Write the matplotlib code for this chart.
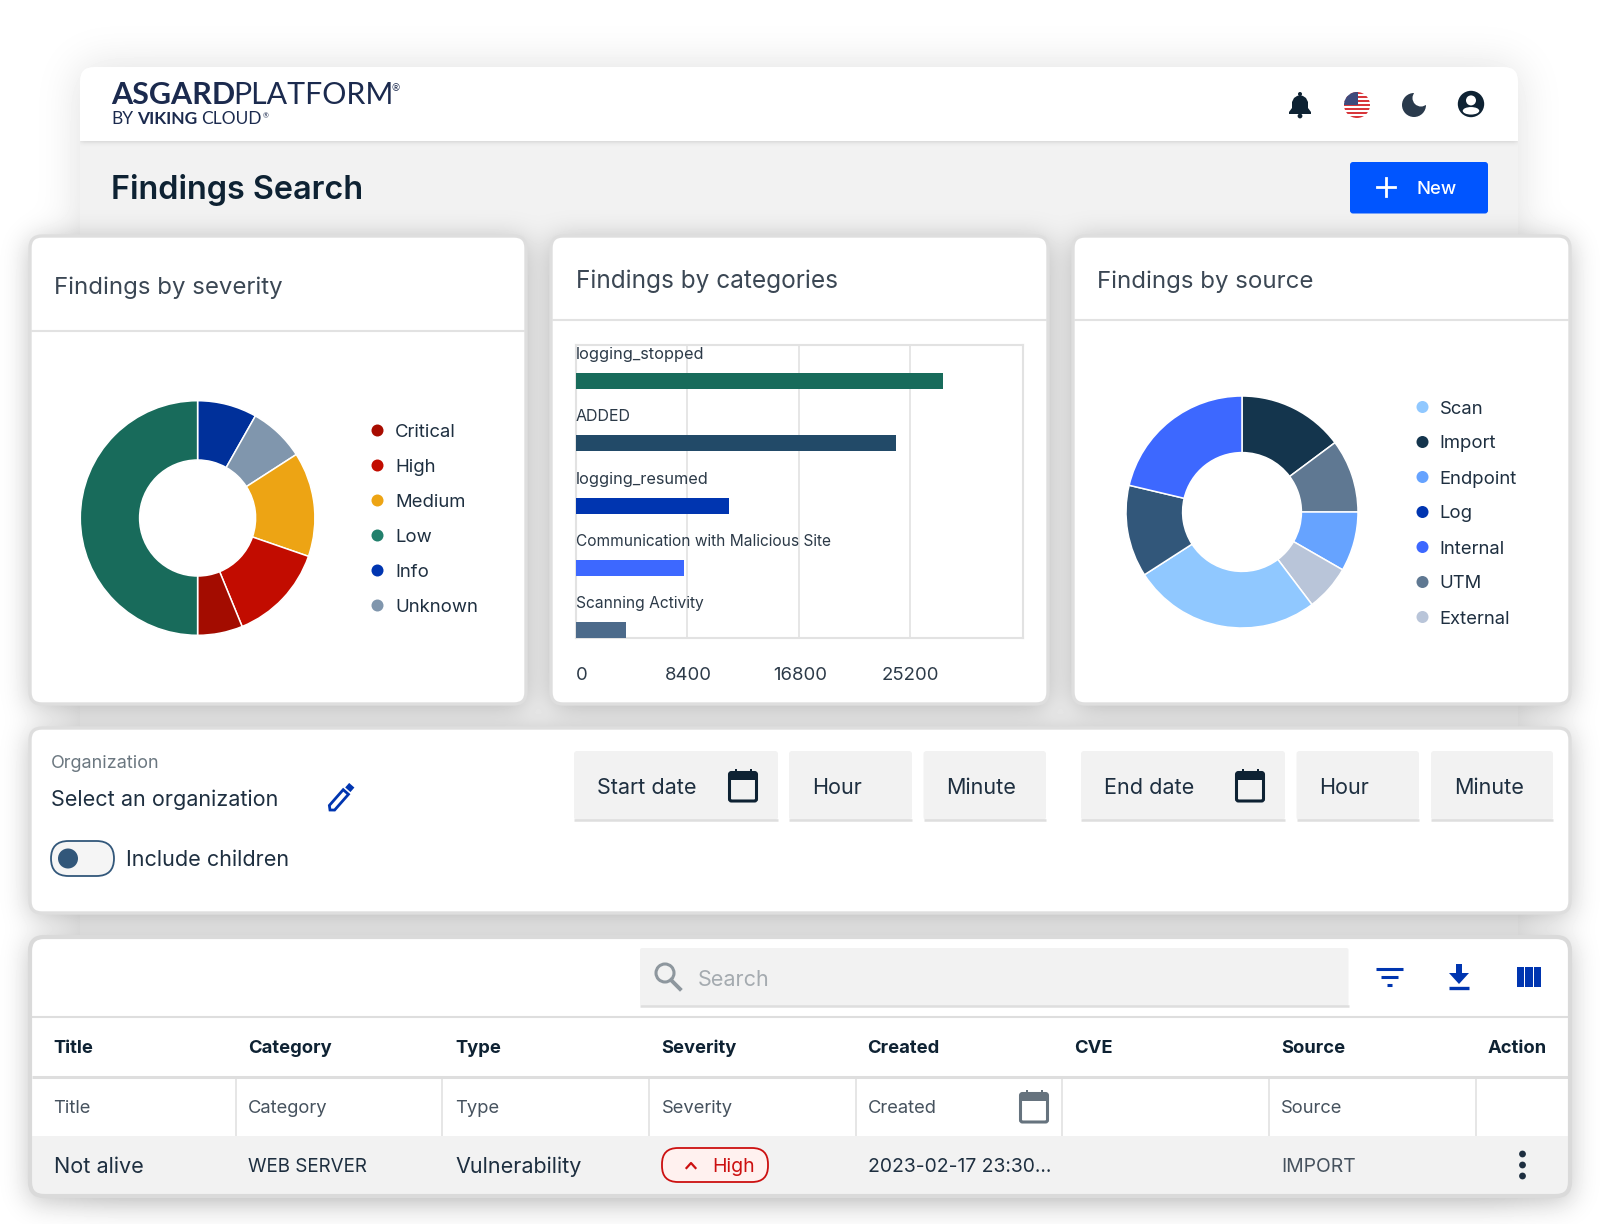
import math
import numpy as np
import matplotlib
matplotlib.use('Agg')
import matplotlib.pyplot as plt
from matplotlib.patches import FancyBboxPatch, Circle, Rectangle, Polygon, Ellipse

W, H = 1600, 1224
FONT = 'Inter'

# severity donut
severity_labels = ['Critical', 'High', 'Medium', 'Low', 'Info', 'Unknown']
severity_legend_colors = ['#A80C00', '#C20C00', '#EDA414', '#22806C', '#0035B0', '#8096AD']
severity_slices = ['Info', 'Unknown', 'Medium', 'High', 'Critical', 'Low']
severity_values = [8.2, 7.7, 14.4, 13.5, 6.2, 50.0]
severity_colors = ['#00309A', '#8096AD', '#EDA414', '#C20C00', '#A30C00', '#186B5B']

# category bars
category_labels = ['logging_stopped', 'ADDED', 'logging_resumed',
                   'Communication with Malicious Site', 'Scanning Activity']
category_values = [27700, 24150, 11530, 8150, 3840]
category_colors = ['#186B5B', '#224A68', '#0035B0', '#3D68FF', '#4C6A8A']
category_ticks = [0, 8400, 16800, 25200]

# source donut
source_labels = ['Scan', 'Import', 'Endpoint', 'Log', 'Internal', 'UTM', 'External']
source_legend_colors = ['#90C8FF', '#14354D', '#66A3FF', '#0035B0', '#3D68FF', '#5F7892', '#B9C5D9']
source_values = [14.8, 10.2, 8.3, 6.4, 26.2, 12.8, 21.3]
source_colors = ['#14354D', '#5F7892', '#66A3FF', '#B9C5D9', '#90C8FF', '#32577A', '#3D68FF']

# table
table_headers = ['Title', 'Category', 'Type', 'Severity', 'Created', 'CVE', 'Source', 'Action']
table_filters = ['Title', 'Category', 'Type', 'Severity', 'Created', '', 'Source', '']
table_row = ['Not alive', 'WEB SERVER', 'Vulnerability', '', '2023-02-17 23:30...', '', 'IMPORT', '']

INK = '#0E2233'
BODY = '#1E2F40'
BLUE = '#0035B0'
FIELD = '#F2F2F2'

erf = np.vectorize(math.erf)


def shadow(img, x0, y0, x1, y1, sigma, alpha):
    # gaussian blurred rectangle, darkens the page background
    s = sigma * math.sqrt(2)
    xs = np.arange(W) + 0.5
    ys = np.arange(H) + 0.5
    mx = 0.5 * (erf((xs - x0) / s) - erf((xs - x1) / s))
    my = 0.5 * (erf((ys - y0) / s) - erf((ys - y1) / s))
    mask = np.outer(my, mx) * alpha
    return img * (1 - mask)


bg = np.ones((H, W))
bg = shadow(bg, 80, 67, 1518, 1190, 22, 0.13)
bg[141:1190, 80:1518] = 0.949
# header casts a small shadow downwards only
tmp = shadow(bg, 80, 67, 1518, 141, 3, 0.2)
bg[141:160, 80:1518] = tmp[141:160, 80:1518]
for y0, y1 in [(236, 704), (728, 913), (937, 1197)]:
    for x0, x1 in ([(30, 526), (551, 1048), (1073, 1570)] if y0 == 236 else [(30, 1570)]):
        bg = shadow(bg, x0, y0 + 4, x1, y1 + 4, 14, 0.26)

fig = plt.figure(figsize=(W / 100, H / 100), dpi=100)
ax = fig.add_axes([0, 0, 1, 1])
ax.imshow(bg, cmap='gray', vmin=0, vmax=1, extent=(0, W, H, 0), aspect='auto',
          interpolation='nearest', zorder=0)
ax.set_xlim(0, W)
ax.set_ylim(H, 0)
ax.axis('off')


def txt(x, y, s, px, color=BODY, weight='normal', ha='left', family=FONT, axes=None):
    return (axes or ax).text(x, y, s, fontsize=px * 0.72, color=color, fontweight=weight, ha=ha,
                             va='center_baseline', family=family, zorder=10)


def box(x0, y0, x1, y1, r=0, fc='white', ec='none', lw=0, z=2):
    if r:
        style = 'round,pad=0,rounding_size=%s' % r
    else:
        style = 'square,pad=0'
    p = FancyBboxPatch((x0, y0), x1 - x0, y1 - y0, boxstyle=style, fc=fc, ec=ec, lw=lw, zorder=z)
    ax.add_patch(p)
    return p


def hline(y, x0, x1, color='#E2E2E2', lw=1.5, z=3):
    ax.plot([x0, x1], [y, y], color=color, lw=lw, zorder=z, solid_capstyle='butt')


def vline(x, y0, y1, color='#E2E2E2', lw=1.2, z=3):
    ax.plot([x, x], [y0, y1], color=color, lw=lw, zorder=z, solid_capstyle='butt')


def calendar(cx, cy, color):
    box(cx - 13.5, cy - 13.5, cx + 13.5, cy + 15, r=2, fc='none', ec=color, lw=2.2, z=5)
    ax.add_patch(Rectangle((cx - 13.5, cy - 13.5), 27, 7, fc=color, ec='none', zorder=5))
    for dx in (-7.5, 7.5):
        ax.add_patch(Rectangle((cx + dx - 1, cy - 17), 2, 4, fc=color, ec='none', zorder=5))


def sub_axes(x0, y0, x1, y1):
    return fig.add_axes([x0 / W, 1 - y1 / H, (x1 - x0) / W, (y1 - y0) / H])


def donut(cx, cy, r_out, r_in, values, colors):
    a = sub_axes(cx - r_out - 2, cy - r_out - 2, cx + r_out + 2, cy + r_out + 2)
    a.pie(values, colors=colors, startangle=90, counterclock=False, radius=1,
          wedgeprops={'width': 1 - r_in / r_out, 'edgecolor': 'white', 'linewidth': 1.1})
    lim = (r_out + 2) / r_out
    a.set_xlim(-lim, lim)
    a.set_ylim(-lim, lim)
    a.patch.set_alpha(0)


# page header, rounded on top only
head_box = box(80, 67, 1518, 160, r=14, fc='white', z=1)
head_box.set_clip_path(Rectangle((70, 60), 1460, 81, transform=ax.transData))
LOGO = '#1B2A4E'
ax.text(111, 104, 'ASGARD', fontsize=22, color=LOGO, fontweight='bold', family='Lato', zorder=10)
ax.text(233, 104, 'PLATFORM', fontsize=21.8, color=LOGO, fontweight='normal', family='Lato', zorder=10)
ax.text(391, 91, '®', fontsize=7, color=LOGO, family='Lato', zorder=10)
ax.text(111, 124.5, 'BY', fontsize=12.5, color=LOGO, family='Lato', zorder=10)
ax.text(137, 124.5, 'VIKING', fontsize=12.5, color=LOGO, fontweight='bold', family='Lato', zorder=10)
ax.text(201, 124.5, 'CLOUD', fontsize=12.5, color=LOGO, fontweight='normal', family='Lato', zorder=10)
ax.text(263, 118, '®', fontsize=5, color=LOGO, family='Lato', zorder=10)
txt(111, 187, 'Findings Search', 32.4, INK, 'semibold')

# bell
bx, by = 1300, 105
bell = [(-11, 9), (-11, 7), (-8, 3), (-8, -3), (-6, -7), (-3, -9), (0, -10), (3, -9), (6, -7),
        (8, -3), (8, 3), (11, 7), (11, 9)]
ax.add_patch(Polygon([(bx + p, by + q) for p, q in bell], fc=INK, ec='none', zorder=5))
ax.add_patch(Circle((bx, by - 11), 2, fc=INK, ec='none', zorder=5))
ax.add_patch(Circle((bx, by + 11), 2.4, fc=INK, ec='none', zorder=5))

# flag
fx, fy, fr = 1357, 105, 13
clip = Circle((fx, fy), fr, transform=ax.transData)
ax.add_patch(Circle((fx, fy), fr, fc='white', ec='none', zorder=5))
for i in range(7):
    s = Rectangle((fx - fr, fy - fr + i * 4), 2 * fr, 2, fc='#D8363B', ec='none', zorder=5)
    ax.add_patch(s)
    s.set_clip_path(clip)
s = Rectangle((fx - fr, fy - fr), fr + 1, fr, fc='#3E4A7C', ec='none', zorder=6)
ax.add_patch(s)
s.set_clip_path(clip)

# moon
ax.add_patch(Circle((1414, 105), 12, fc='#2A3A4C', ec='none', zorder=5))
ax.add_patch(Circle((1421, 98), 8.5, fc='white', ec='none', zorder=6))

# user, dark disc with white head and shoulders
ux, uy = 1471, 104
ax.add_patch(Circle((ux, uy), 13.2, fc=INK, ec='none', zorder=5))
ax.add_patch(Circle((ux, uy - 3.6), 5, fc='white', ec='none', zorder=6))
ax.add_patch(Ellipse((ux, uy + 6.8), 16.5, 7.5, fc='white', ec='none', zorder=6))

# new button
box(1350, 162, 1488, 213.5, r=3, fc='#0055FF', z=3)
ax.plot([1377, 1395], [187, 187], color='white', lw=2, zorder=5)
ax.plot([1386, 1386], [178, 196], color='white', lw=2, zorder=5)
txt(1417, 187, 'New', 18.5, 'white', 'medium')

# top cards
CARD_EC = '#DEDEDE'
box(30, 236, 526, 704, r=12, ec=CARD_EC, lw=2.4, z=3)
box(551, 236, 1048, 704, r=12, ec=CARD_EC, lw=2.4, z=3)
box(1073, 236, 1570, 704, r=12, ec=CARD_EC, lw=2.4, z=3)
hline(331, 31, 525)
hline(320, 552, 1047)
hline(320, 1074, 1569)
txt(54, 285, 'Findings by severity', 24, '#3B4754')
txt(575.5, 279, 'Findings by categories', 24.4, '#3B4754')
txt(1097, 279, 'Findings by source', 24, '#3B4754')

# severity chart and legend
donut(197.6, 518, 117.3, 58, severity_values, severity_colors)
for i, (lab, col) in enumerate(zip(severity_labels, severity_legend_colors)):
    y = 430.5 + i * 35
    ax.add_patch(Circle((377.5, y), 6, fc=col, ec='none', zorder=5))
    txt(395, y, lab, 18.5)

# category chart, pixel box is 575.5..1023 x 345..637.6
bar_ax = sub_axes(575.5, 345, 1023, 637.6)
bar_ax.barh(range(len(category_values)), category_values, height=0.257, color=category_colors, zorder=3,
            clip_on=False)
bar_ax.set_xlim(0, 33700)
bar_ax.set_ylim(4.119, -0.578)
bar_ax.set_xticks(category_ticks[1:])
bar_ax.set_yticks([])
bar_ax.tick_params(length=0, labelbottom=False)
bar_ax.grid(axis='x', color='#E2E2E2', lw=1.2, zorder=0)
bar_ax.patch.set_alpha(0)
for sp in bar_ax.spines.values():
    sp.set_color('#E2E2E2')
    sp.set_linewidth(1.5)
label_px = [16.3, 16, 16.3, 15.5, 15.6]
for i, lab in enumerate(category_labels):
    bar_ax.text(0, i - 0.45, lab, fontsize=label_px[i] * 0.72, color='#2C3A48', family=FONT,
                va='center_baseline', clip_on=False)
for v in category_ticks:
    x = 575.5 + v * (910 - 575.5) / 25200
    txt(x + (1.5 if 0 < v < 25200 else 0), 674, str(v), 18.5, '#2C3A48', ha='left' if v == 0 else 'center')

# source chart and legend
donut(1242, 512, 116, 59.4, source_values, source_colors)
for i, (lab, col) in enumerate(zip(source_labels, source_legend_colors)):
    y = 407 + i * 35
    ax.add_patch(Circle((1422.5, y), 6, fc=col, ec='none', zorder=5))
    txt(1439.5, y, lab, 18.5)

# filter card
box(30, 728, 1570, 913, r=12, ec=CARD_EC, lw=2.4, z=3)
txt(51, 762, 'Organization', 18, '#6B7780')
txt(51, 797.5, 'Select an organization', 21.6, BODY)

# pencil
p0 = np.array([330.0, 810.0])
u = np.array([0.66, -0.75])
n = np.array([0.75, 0.66])
corners = [p0, p0 + u * 3 + n * 3.5, p0 + u * 24 + n * 3.5, p0 + u * 24 - n * 3.5, p0 + u * 3 - n * 3.5]
ax.add_patch(Polygon(corners, fc='none', ec=BLUE, lw=2, zorder=5))
head = [p0 + u * 27 + n * 3.5, p0 + u * 27 - n * 3.5, p0 + u * 33 - n * 3.5, p0 + u * 33 + n * 3.5]
ax.add_patch(Polygon(head, fc=BLUE, ec='none', zorder=5))

# toggle
box(51, 841, 114, 876, r=17.5, fc='#F5F5F5', ec='#32577A', lw=1.3, z=4)
ax.add_patch(Circle((68, 858.5), 10, fc='#32577A', ec='none', zorder=5))
txt(126.5, 858.5, 'Include children', 21.6)

field_boxes = [(574, 778, 'Start date'), (789, 912, 'Hour'), (923.5, 1046, 'Minute'),
               (1081, 1285, 'End date'), (1296.5, 1419, 'Hour'), (1431, 1553, 'Minute')]
for x0, x1, lab in field_boxes:
    box(x0, 751, x1, 820, r=3, fc=FIELD, z=4)
    hline(819.5, x0, x1, '#DEDEDE', 1.8, z=5)
    txt(x0 + 23, 785.5, lab, 21.6)
calendar(743, 786, INK)
calendar(1250, 786, INK)

# table card, bottom row follows the rounded corners
table_card = box(31, 938, 1569, 1195, r=14, z=3)
grey_row = box(31, 1136, 1569, 1195, fc=FIELD, z=4)
grey_row.set_clip_path(table_card)
box(30, 937, 1570, 1196, r=14, fc='none', ec='#DADADA', lw=3, z=6)
hline(1017, 32, 1568, '#DEDEDE', 1.5, z=5)
hline(1077, 32, 1568, '#DEDEDE', 2.2, z=5)
for x in [236, 442, 649, 855.5, 1062, 1269, 1475.5]:
    vline(x, 1077, 1136)

box(640, 948, 1348.5, 1006, r=2, fc=FIELD, z=4)
hline(1006, 640, 1348.5, '#DEDEDE', 1.8, z=5)
ax.add_patch(Circle((665, 973), 9, fc='none', ec='#8E979E', lw=2.2, zorder=6))
ax.plot([671, 680], [980, 989], color='#8E979E', lw=2.8, zorder=6)
txt(698, 977.5, 'Search', 21.6, '#A5ABB0')

# toolbar icons
for w, y in [(27, 969), (17, 977), (5, 985)]:
    ax.plot([1389 - w / 2, 1389 + w / 2], [y, y], color=BLUE, lw=2.2, zorder=6, solid_capstyle='butt')
ax.add_patch(Polygon([(1456, 964), (1462, 964), (1462, 973), (1469, 973), (1459, 984), (1449, 973), (1456, 973)],
                     fc=BLUE, ec='none', zorder=6))
ax.plot([1449, 1469], [988, 988], color=BLUE, lw=2.4, zorder=6, solid_capstyle='butt')
for x in [1516.5, 1525, 1533.5]:
    ax.add_patch(Rectangle((x, 967), 7.5, 19.5, fc=BLUE, ec='none', zorder=6))

column_x = [53.5, 248, 455, 661.5, 867.5, 1074.5, 1281, 1488]
row_px = [21.6, 18.8, 21.6, 0, 19.3, 0, 19.4, 0]
for x, head_txt in zip(column_x, table_headers):
    txt(x, 1046.5, head_txt, 18.4, INK, 'bold')
for x, lab in zip(column_x, table_filters):
    if lab:
        txt(x, 1106.5, lab, 18.4, '#46525E')
calendar(1034, 1107, '#66737E')
for x, lab, px in zip(column_x, table_row, row_px):
    if lab:
        txt(x, 1165, lab, px, '#46525E' if lab == 'IMPORT' else BODY)

# severity chip
box(662, 1148, 768, 1182, r=16, fc='#FFF1EF', ec='#CC1010', lw=1.3, z=5)
ax.plot([686.5, 691, 695.5], [1168, 1163, 1168], color='#CC1010', lw=1.6, zorder=6)
txt(712, 1165, 'High', 19.5, '#CC1010')

for y in [1154, 1165, 1176]:
    ax.add_patch(Circle((1522.5, y), 3.4, fc='#1E2F40', ec='none', zorder=6))

fig.savefig('out.png', dpi=100)
